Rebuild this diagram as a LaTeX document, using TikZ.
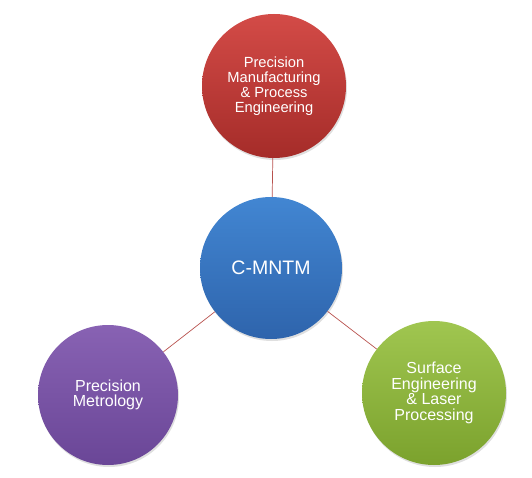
\documentclass[tikz,border=0pt]{standalone}
\usepackage{fontspec}
\setmainfont{Liberation Sans}
\usetikzlibrary{shadows}

\definecolor{redtop}{HTML}{D34B47}
\definecolor{redbot}{HTML}{A52C29}
\definecolor{bluetop}{HTML}{4286D2}
\definecolor{bluebot}{HTML}{2E64AC}
\definecolor{purtop}{HTML}{8862B3}
\definecolor{purbot}{HTML}{6A4697}
\definecolor{grntop}{HTML}{A0C650}
\definecolor{grnbot}{HTML}{7BA22D}
\definecolor{linkred}{HTML}{B8524E}

\tikzset{
  bubble/.style={circle, minimum size=144pt, inner sep=0pt, text=white,
    align=center, font=\fontsize{16}{15.7}\selectfont,
    drop shadow={opacity=0.25, shadow xshift=1pt, shadow yshift=-2pt}},
  link/.style={draw=linkred, line width=0.7pt}
}

\begin{document}
\begin{tikzpicture}[x=1pt, y=-1pt]
\useasboundingbox (0,0) rectangle (532,478);

\node [bubble, top color=bluetop, bottom color=bluebot, minimum size=142pt,
       font=\fontsize{19.5}{22}\selectfont] (core) at (271,268) {C-MNTM};

\node [bubble, top color=redtop, bottom color=redbot,
       font=\fontsize{14.7}{15}\selectfont] (manuf) at (274,86)
  {Precision\\Manufacturing\\\& Process\\Engineering};
\node [bubble, top color=purtop, bottom color=purbot, minimum size=140pt] (metro) at (108,395)
  {Precision\\Metrology};
\node [bubble, top color=grntop, bottom color=grnbot] (surf) at (434,393)
  {Surface\\Engineering\\\& Laser\\Processing};

\draw [link] (core) -- (manuf);
\draw [link] (core) -- (metro);
\draw [link] (core) -- (surf);

\end{tikzpicture}
\end{document}
